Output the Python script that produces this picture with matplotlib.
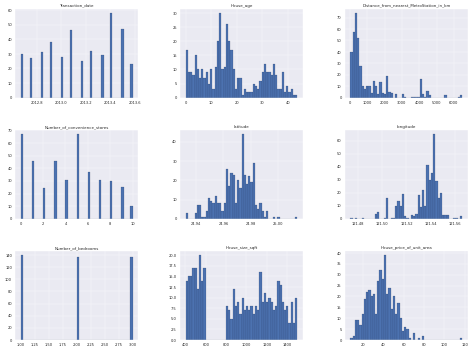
import numpy as np
import matplotlib
matplotlib.use("Agg")
import matplotlib.pyplot as plt
import seaborn as sns

# discrete columns: distinct values and how often they occur
date_values = [2012.667, 2012.750, 2012.833, 2012.917, 2013.000, 2013.083,
               2013.167, 2013.250, 2013.333, 2013.417, 2013.500, 2013.583]
date_counts = [30, 27, 31, 38, 28, 46, 25, 32, 29, 58, 47, 23]

store_values = [0, 1, 2, 3, 4, 5, 6, 7, 8, 9, 10]
store_counts = [67, 46, 24, 46, 31, 67, 37, 31, 30, 25, 10]

bedroom_values = [1, 2, 3]
bedroom_counts = [140, 137, 137]

# continuous columns: range and counts of the 50 bins
age_range = (0.0, 43.8)
age_counts = [17, 9, 9, 8, 15, 10, 7, 10, 7, 9,
              5, 10, 3, 11, 20, 30, 10, 11, 26, 20,
              17, 10, 3, 7, 7, 1, 3, 2, 2, 2,
              5, 4, 3, 6, 9, 12, 9, 9, 8, 12,
              8, 3, 3, 9, 2, 4, 2, 3, 1, 1]

dist_range = (23.38, 6488.02)
dist_counts = [40, 57, 74, 52, 28, 10, 8, 10, 10, 4,
               15, 10, 3, 14, 4, 3, 19, 5, 4, 0,
               3, 0, 0, 3, 1, 0, 0, 1, 1, 1,
               1, 16, 3, 1, 6, 2, 0, 0, 0, 0,
               0, 0, 2, 0, 0, 0, 0, 0, 1, 2]

lat_range = (24.93207, 25.01459)
lat_counts = [3, 0, 0, 0, 3, 7, 7, 1, 1, 4,
              11, 9, 8, 12, 8, 8, 4, 8, 26, 17,
              24, 23, 8, 20, 16, 44, 23, 18, 22, 19,
              29, 7, 5, 8, 4, 1, 4, 0, 0, 1,
              0, 1, 0, 0, 0, 0, 0, 0, 0, 1]

lon_range = (121.47353, 121.56627)
lon_counts = [1, 0, 1, 0, 0, 1, 0, 0, 0, 0,
              0, 4, 5, 0, 0, 1, 16, 0, 1, 1,
              10, 14, 10, 19, 2, 1, 0, 3, 2, 4,
              18, 9, 22, 10, 41, 30, 35, 65, 29, 16,
              20, 3, 3, 3, 0, 0, 1, 1, 0, 2]

size_range = (402, 1500)
size_counts = [14, 15, 15, 17, 17, 12, 20, 14, 17, 0,
               0, 0, 0, 0, 0, 0, 0, 0, 8, 7,
               5, 12, 8, 9, 6, 10, 7, 8, 7, 8,
               6, 8, 7, 16, 9, 11, 9, 10, 9, 7,
               8, 14, 13, 9, 7, 8, 4, 9, 4, 10]

price_range = (7.6, 117.5)
price_counts = [1, 2, 9, 9, 7, 12, 19, 22, 23, 20,
                21, 12, 27, 32, 28, 39, 21, 24, 14, 20,
                12, 17, 10, 4, 6, 5, 1, 0, 3, 0,
                1, 0, 2, 0, 0, 0, 0, 0, 0, 0,
                0, 0, 0, 0, 0, 0, 0, 0, 0, 1]

sns.set_theme(style="darkgrid")

fig, axes = plt.subplots(3, 3, figsize=(20, 14.9), dpi=23.7)
fig.subplots_adjust(left=0.032, right=0.987, top=0.975, bottom=0.037,
                    wspace=0.34, hspace=0.36)

bar_kw = dict(color="#4C72B0", edgecolor="#1f2f4f", linewidth=0.5)


def hist_discrete(ax, values, counts, title):
    ax.hist(values, bins=50, weights=counts, **bar_kw)
    ax.set_title(title)


def hist_binned(ax, rng, counts, title):
    lo, hi = rng
    centers = lo + (np.arange(len(counts)) + 0.5) * (hi - lo) / len(counts)
    ax.hist(centers, bins=len(counts), range=rng, weights=counts, **bar_kw)
    ax.set_title(title)


hist_discrete(axes[0, 0], date_values, date_counts, "Transaction_date")
hist_binned(axes[0, 1], age_range, age_counts, "House_age")
hist_binned(axes[0, 2], dist_range, dist_counts, "Distance_from_nearest_MetroStation_in_km")
hist_discrete(axes[1, 0], store_values, store_counts, "Number_of_convenience_stores")
hist_binned(axes[1, 1], lat_range, lat_counts, "latitude")
hist_binned(axes[1, 2], lon_range, lon_counts, "longitude")
hist_discrete(axes[2, 0], bedroom_values, bedroom_counts, "Number_of_bedrooms")
hist_binned(axes[2, 1], size_range, size_counts, "House_size_sqft")
hist_binned(axes[2, 2], price_range, price_counts, "House_price_of_unit_area")

plt.savefig("out.png", dpi=23.7)
